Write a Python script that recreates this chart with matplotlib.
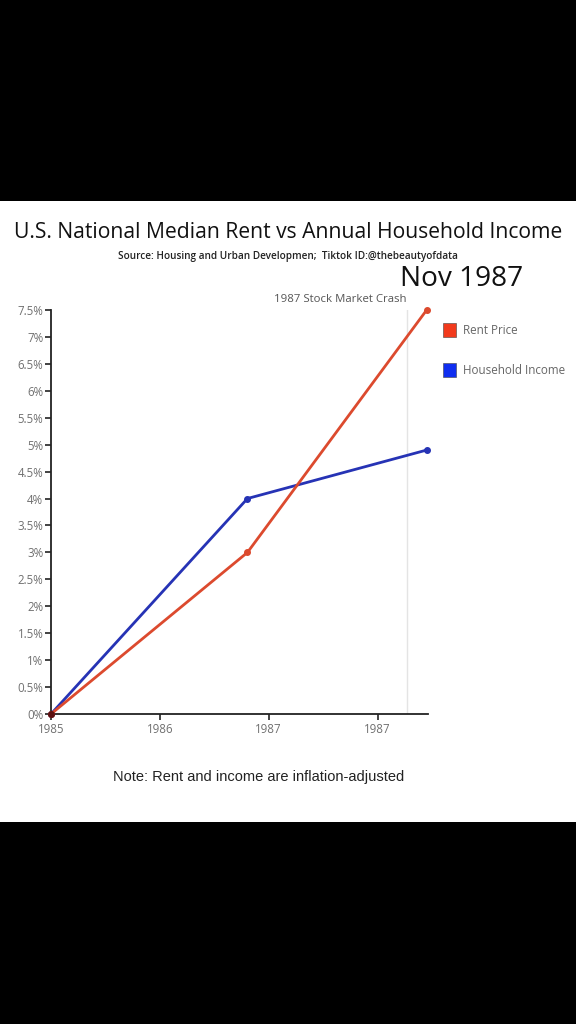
import matplotlib
matplotlib.use("Agg")
import matplotlib.pyplot as plt
from matplotlib.patches import Rectangle

# ---- data ----
dates = [1985.0, 1986.48, 1987.83]
rent_price = [0.0, 3.0, 7.5]
household_income = [0.0, 4.0, 4.9]
x_tick_pos = [1985.0, 1985.82, 1986.64, 1987.46]
x_tick_labels = ["1985", "1986", "1987", "1987"]
y_ticks = [0, 0.5, 1, 1.5, 2, 2.5, 3, 3.5, 4, 4.5, 5, 5.5, 6, 6.5, 7, 7.5]
y_tick_labels = ["0%", "0.5%", "1%", "1.5%", "2%", "2.5%", "3%", "3.5%", "4%",
                 "4.5%", "5%", "5.5%", "6%", "6.5%", "7%", "7.5%"]
crash_date = 1987.68
series_names = ["Rent Price", "Household Income"]
title = "U.S. National Median Rent vs Annual Household Income"
subtitle = "Source: Housing and Urban Developmen;  Tiktok ID:@thebeautyofdata"
date_label = "Nov 1987"
crash_label = "1987 Stock Market Crash"
note = "Note: Rent and income are inflation-adjusted"

RED = "#dc4a2e"
BLUE = "#2633b5"
W, H = 576, 1024

fig = plt.figure(figsize=(W / 100, H / 100), dpi=100)
fig.patch.set_facecolor("black")
# white panel
fig.add_artist(Rectangle((0, 1 - 822 / H), 1, (822 - 201) / H, transform=fig.transFigure,
                         facecolor="white", edgecolor="none", zorder=0))

def fx(px):
    return px / W

def fy(py):
    return 1 - py / H

ax = fig.add_axes([fx(51), fy(714), fx(428) - fx(51), fy(310) - fy(714)])
ax.set_facecolor("none")
ax.set_xlim(1985.0, 1987.84)
ax.set_ylim(0, 7.5)

ax.axvline(crash_date, color="#e4e4e4", lw=1.0, zorder=1)

ax.plot(dates, household_income, color=BLUE, lw=2.0, marker="o", ms=4, zorder=3,
        solid_capstyle="round", clip_on=False)
ax.plot(dates, rent_price, color=RED, lw=2.0, marker="o", ms=4, zorder=4,
        solid_capstyle="round", clip_on=False)
ax.plot([dates[0]], [0], marker="o", ms=4, color="#5a1010", zorder=5, clip_on=False)

for s in ["top", "right"]:
    ax.spines[s].set_visible(False)
for s in ["left", "bottom"]:
    ax.spines[s].set_color("#222222")
    ax.spines[s].set_linewidth(1.3)

ax.set_yticks(y_ticks)
ax.set_yticklabels(y_tick_labels)
ax.set_xticks(x_tick_pos)
ax.set_xticklabels(x_tick_labels)
ax.tick_params(axis="both", colors="#222222", labelcolor="#707070", labelsize=8.3,
               length=4, width=1.2, pad=1.5)
ax.tick_params(axis="x", pad=2.5)
for lab in ax.get_xticklabels() + ax.get_yticklabels():
    lab.set_fontfamily("Open Sans")

# texts
fig.text(fx(288), fy(233), title, ha="center", va="center", fontsize=15.2,
         family="Open Sans", color="#111111")
fig.text(fx(288), fy(256), subtitle, ha="center", va="center", fontsize=7.2,
         family="Open Sans", weight="semibold", color="#222222")
fig.text(fx(523), fy(279), date_label, ha="right", va="center", fontsize=20.2,
         family="Open Sans", color="#111111")
fig.text(fx(406), fy(300), crash_label, ha="right", va="center", fontsize=8.2,
         family="Open Sans", color="#555555")
fig.text(fx(259), fy(777), note, ha="center", va="center", fontsize=10.5,
         family="Liberation Sans", color="#222222")

# legend
for i, (name, col) in enumerate(zip(series_names, ["#f23a1c", "#0f2ef0"])):
    cy = 330 + 40 * i
    fig.add_artist(Rectangle((fx(443), fy(cy + 7)), 13 / W, 14 / H, transform=fig.transFigure,
                             facecolor=col, edgecolor="#444444", lw=0.4))
    fig.text(fx(463), fy(cy), name, ha="left", va="center", fontsize=8.4,
             family="Open Sans", color="#666666")

fig.savefig("out.png", dpi=100, facecolor="black")
